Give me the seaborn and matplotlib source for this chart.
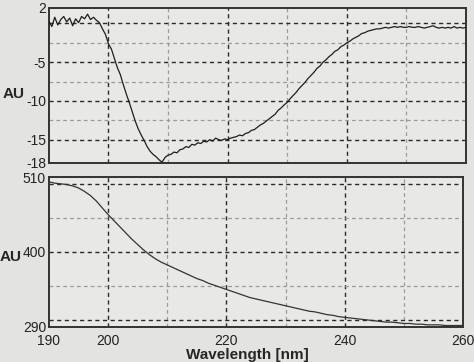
import numpy as np
import pandas as pd
import matplotlib
matplotlib.use('Agg')
import matplotlib.pyplot as plt
import seaborn as sns

# CD signal (top panel), 0.5 nm steps
wl_cd = np.arange(190, 260.5, 0.5)
cd = [0.3, -0.4, 0.8, -0.2, 0.5, 0.9, 0.2, 0.7, -0.3, 0.6,
      0.1, 0.9, 0.6, 1.2, 0.5, 0.8, 0.4, 0.1, -0.7, -1.4,
      -2.6, -3.3, -4.5, -5.7, -6.6, -7.9, -9.1, -10.2, -11.4, -12.6,
      -13.6, -14.4, -15.1, -15.9, -16.5, -16.9, -17.2, -17.6, -17.9, -17.3,
      -17.0, -16.9, -16.6, -16.7, -16.3, -16.2, -15.9, -16.0, -15.6, -15.7,
      -15.4, -15.5, -15.2, -15.3, -15.0, -15.2, -14.8, -15.0, -15.1, -14.9,
      -15.0, -14.8, -14.7, -14.6, -14.4, -14.5, -14.2, -14.1, -13.8, -13.7,
      -13.4, -13.1, -12.9, -12.6, -12.3, -12.0, -11.7, -11.2, -10.9, -10.5,
      -10.2, -9.7, -9.3, -8.9, -8.4, -8.0, -7.6, -7.1, -6.7, -6.3,
      -5.8, -5.5, -5.0, -4.7, -4.3, -4.0, -3.6, -3.4, -3.0, -2.8,
      -2.5, -2.3, -2.0, -1.8, -1.6, -1.3, -1.2, -1.0, -0.9, -0.8,
      -0.7, -0.7, -0.6, -0.5, -0.6, -0.5, -0.4, -0.5, -0.4, -0.5,
      -0.5, -0.4, -0.5, -0.5, -0.4, -0.5, -0.6, -0.5, -0.4, -0.3,
      -0.5, -0.6, -0.5, -0.6, -0.5, -0.6, -0.4, -0.6, -0.5, -0.6,
      -0.5]

# HT / absorbance trace (bottom panel), 1 nm steps
wl_ht = np.arange(190, 261, 1)
ht = [503, 501, 500, 499, 497, 494, 489, 483, 475, 465,
      455, 446, 437, 428, 419, 411, 403, 396, 390, 385,
      381, 377, 373, 369, 365, 361, 358, 354, 351, 348,
      345, 342, 339, 336, 333, 331, 329, 327, 325, 323,
      321, 319, 317, 315, 313, 312, 310, 308, 307, 305,
      304, 303, 302, 301, 300, 299, 298, 297, 297, 296,
      295, 295, 294, 294, 293, 293, 293, 292, 292, 292,
      292]

top_yticks = [2, -5, -10, -15, -18]
bot_yticks = [510, 400, 290]
bot_xticks = [190, 200, 220, 240, 260]

df_cd = pd.DataFrame({'wl': wl_cd, 'au': cd})
df_ht = pd.DataFrame({'wl': wl_ht, 'au': ht})

sns.set_theme(style='white')
plt.rcParams['font.family'] = ['Liberation Sans', 'DejaVu Sans']

bg = '#e3e3e1'
fig = plt.figure(figsize=(4.74, 3.62), dpi=100, facecolor=bg)
ax1 = fig.add_axes([0.103, 0.55, 0.880, 0.428])
ax2 = fig.add_axes([0.103, 0.097, 0.874, 0.414])

dark = '#2a2a2a'
light = '#9a9a9a'
dash = (0, (3, 2.5))

def grid(ax, major_y, minor_y):
    for v in [210, 230, 250]:
        ax.axvline(v, color=light, lw=0.9, ls=dash, zorder=1)
    for v in [200, 220, 240]:
        ax.axvline(v, color=dark, lw=1.0, ls=dash, zorder=1)
    for v in minor_y:
        ax.axhline(v, color=light, lw=0.9, ls=dash, zorder=1)
    for v in major_y:
        ax.axhline(v, color=dark, lw=1.0, ls=dash, zorder=1)

for ax in (ax1, ax2):
    ax.set_facecolor('#e8e8e6')
    for s in ax.spines.values():
        s.set_color('#333333')
        s.set_linewidth(1.4)
    ax.tick_params(direction='in', length=3, color='#333333', labelsize=10,
                   labelcolor='#222222', pad=2)
    ax.set_xlim(190, 260)

grid(ax1, [0, -5, -10, -15], [-2.5, -7.5, -12.5])
sns.lineplot(data=df_cd, x='wl', y='au', ax=ax1, color='#1e1e1e', lw=0.9, zorder=3)
ax1.set_ylim(-18, 2)
ax1.set_yticks(top_yticks)
ax1.set_yticklabels([str(t) for t in top_yticks])
ax1.set_xticks([200, 210, 220, 230, 240, 250])
ax1.set_xticklabels([])
ax1.set_xlabel('')
ax1.set_ylabel('AU', rotation=0, fontweight='bold', fontsize=11)
ax1.yaxis.set_label_coords(-0.085, 0.40)

grid(ax2, [300, 400, 500], [350, 450])
sns.lineplot(data=df_ht, x='wl', y='au', ax=ax2, color='#333333', lw=0.9, zorder=3)
ax2.set_ylim(290, 510)
ax2.set_yticks(bot_yticks)
ax2.set_yticklabels([str(t) for t in bot_yticks])
ax2.set_xticks(bot_xticks)
ax2.set_xticklabels([str(t) for t in bot_xticks])
ax2.tick_params(axis='x', pad=5)
ax2.set_xlabel('Wavelength [nm]', fontweight='bold', fontsize=11)
ax2.xaxis.set_label_coords(0.48, -0.14)
ax2.set_ylabel('AU', rotation=0, fontweight='bold', fontsize=11)
ax2.yaxis.set_label_coords(-0.092, 0.42)

fig.savefig('out.png', dpi=100, facecolor=bg)
